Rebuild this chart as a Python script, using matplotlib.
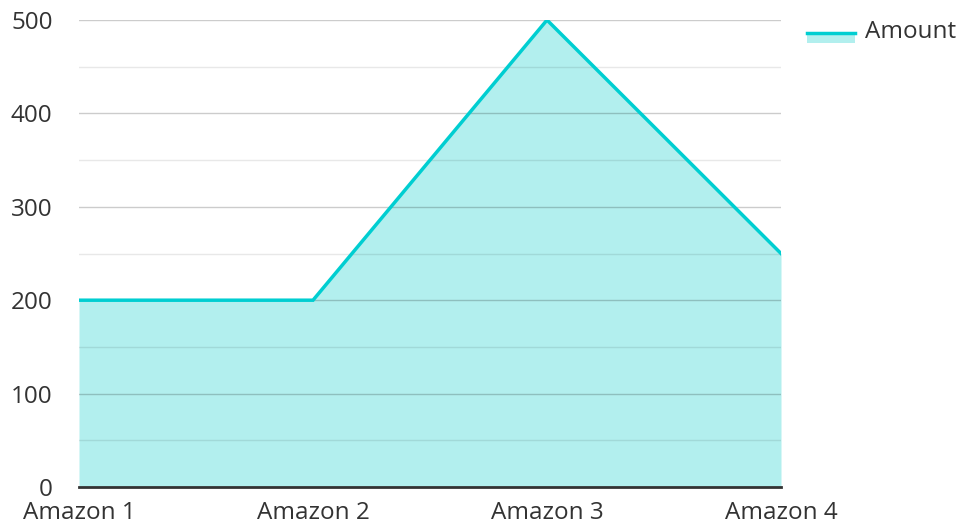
import matplotlib
matplotlib.use("Agg")
import matplotlib.pyplot as plt
from matplotlib.patches import Rectangle
from matplotlib.lines import Line2D

plt.rcParams['font.family'] = ['Open Sans', 'DejaVu Sans']

categories = ["Amazon 1", "Amazon 2", "Amazon 3", "Amazon 4"]
amount = [200, 200, 500, 250]
y_ticks = [0, 100, 200, 300, 400, 500]
series_name = "Amount"

W, H = 962, 528
fig = plt.figure(figsize=(W / 100, H / 100), dpi=100)
ax = fig.add_axes([79 / W, 1 - 487 / H, (781 - 79) / W, (487 - 20) / H])

x = list(range(len(categories)))
line_color = "#00CED1"
fill_color = "#B2EFEE"
FS = 17.5

ax.fill_between(x, amount, 0, color=fill_color, linewidth=0, zorder=1)
# gridlines drawn over the fill, semi-transparent
for v in range(50, 501, 50):
    if v % 100 == 0:
        ax.axhline(v, color="black", alpha=0.2, linewidth=1, zorder=2)
    else:
        ax.axhline(v, color="black", alpha=0.09, linewidth=1, zorder=2)
ax.plot(x, amount, color=line_color, linewidth=2.5, zorder=3, solid_joinstyle='miter')

ax.set_xlim(0, len(categories) - 1)
ax.set_ylim(0, 500)
ax.set_xticks(x)
ax.set_xticklabels(categories)
ax.set_yticks(y_ticks)
ax.tick_params(axis='both', length=0, labelsize=FS, colors="#333333")
ax.tick_params(axis='y', pad=19)
ax.tick_params(axis='x', pad=10)
for s in ["top", "right", "left"]:
    ax.spines[s].set_visible(False)
ax.spines["bottom"].set_color("#333333")
ax.spines["bottom"].set_linewidth(2)
ax.spines["bottom"].set_zorder(4)
ax.set_facecolor("white")

# legend
fig.add_artist(Rectangle((807 / W, 1 - 43 / H), 48 / W, 11 / H, transform=fig.transFigure,
                         facecolor=fill_color, edgecolor="none"))
fig.add_artist(Line2D([807 / W, 855 / W], [1 - 33 / H, 1 - 33 / H], transform=fig.transFigure,
                      color=line_color, linewidth=2.5))
fig.text(865 / W, 1 - 32 / H, series_name, fontsize=FS, color="#333333", va="center", ha="left")

fig.savefig("out.png", dpi=100)
